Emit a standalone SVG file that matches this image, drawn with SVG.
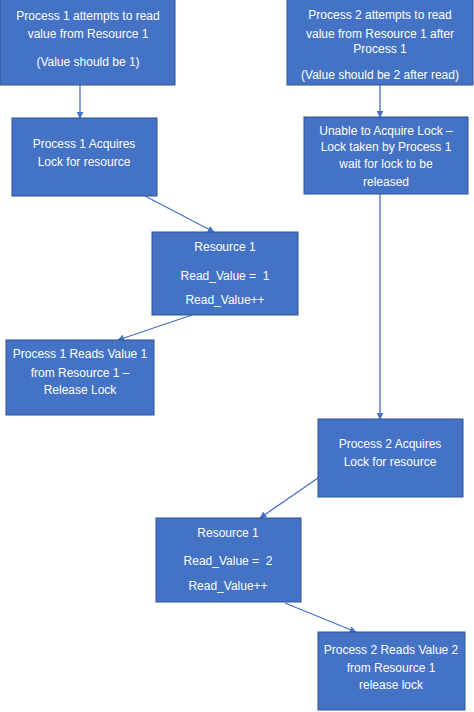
<svg xmlns="http://www.w3.org/2000/svg" width="474" height="712" viewBox="0 0 474 712">
<defs>
<marker id="ah" viewBox="0 0 10 10" refX="9" refY="5" markerWidth="7" markerHeight="7" markerUnits="userSpaceOnUse" orient="auto">
<path d="M0,0 L10,5 L0,10 z" fill="#4472C4"/>
</marker>
<style>
.box{fill:#4472C4;stroke:#2F528F;stroke-width:1}
.t{fill:#FFFFFF;font-family:"Liberation Sans",Arial,sans-serif;font-size:12px;text-anchor:middle;white-space:pre}
.c{stroke:#4472C4;stroke-width:1.3;fill:none;marker-end:url(#ah)}
</style>
</defs>
<rect width="474" height="712" fill="#FFFFFF"/>
<g id="connectors">
<line class="c" x1="80" y1="85" x2="80" y2="118"/>
<line class="c" x1="380" y1="85" x2="380" y2="117"/>
<line class="c" x1="145" y1="196" x2="214" y2="232"/>
<line class="c" x1="192" y1="315" x2="118" y2="340"/>
<line class="c" x1="380" y1="194" x2="380" y2="419"/>
<line class="c" x1="318" y1="478" x2="260" y2="518"/>
<line class="c" x1="285" y1="603" x2="356" y2="632"/>
</g>
<g id="p1-attempt">
<rect class="box" x="0" y="-1" width="175" height="86"/>
<text class="t" x="88" y="20">Process 1 attempts to read</text>
<text class="t" x="88" y="38">value from Resource 1</text>
<text class="t" x="88" y="66">(Value should be 1)</text>
</g>
<g id="p2-attempt">
<rect class="box" x="287" y="-1" width="186" height="86"/>
<text class="t" x="380" y="19">Process 2 attempts to read</text>
<text class="t" x="380" y="38">value from Resource 1 after</text>
<text class="t" x="380" y="53">Process 1</text>
<text class="t" x="380" y="79">(Value should be 2 after read)</text>
</g>
<g id="p1-acquire">
<rect class="box" x="12" y="118" width="145" height="78"/>
<text class="t" x="84" y="148">Process 1 Acquires</text>
<text class="t" x="84" y="166">Lock for resource</text>
</g>
<g id="p2-wait">
<rect class="box" x="304" y="117" width="164" height="77"/>
<text class="t" x="386" y="135">Unable to Acquire Lock –</text>
<text class="t" x="386" y="151">Lock taken by Process 1</text>
<text class="t" x="386" y="168">wait for lock to be</text>
<text class="t" x="386" y="186">released</text>
</g>
<g id="resource1-a">
<rect class="box" x="152" y="232" width="146" height="83"/>
<text class="t" x="225" y="251">Resource 1</text>
<text class="t" x="225" y="280" xml:space="preserve">Read_Value =  1</text>
<text class="t" x="225" y="304">Read_Value++</text>
</g>
<g id="p1-read">
<rect class="box" x="6" y="340" width="148" height="75"/>
<text class="t" x="80" y="358">Process 1 Reads Value 1</text>
<text class="t" x="80" y="377">from Resource 1 –</text>
<text class="t" x="80" y="394">Release Lock</text>
</g>
<g id="p2-acquire">
<rect class="box" x="318" y="419" width="145" height="78"/>
<text class="t" x="390" y="448">Process 2 Acquires</text>
<text class="t" x="390" y="466">Lock for resource</text>
</g>
<g id="resource1-b">
<rect class="box" x="156" y="518" width="145" height="84"/>
<text class="t" x="228" y="537">Resource 1</text>
<text class="t" x="228" y="565" xml:space="preserve">Read_Value =  2</text>
<text class="t" x="228" y="590">Read_Value++</text>
</g>
<g id="p2-read">
<rect class="box" x="318" y="632" width="147" height="78"/>
<text class="t" x="391" y="654">Process 2 Reads Value 2</text>
<text class="t" x="391" y="672">from Resource 1</text>
<text class="t" x="391" y="689">release lock</text>
</g>
</svg>
